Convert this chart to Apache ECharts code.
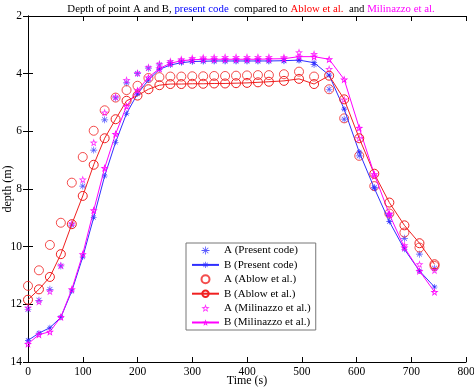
<!DOCTYPE html>
<html>
<head>
<meta charset="utf-8">
<script src="https://cdn.jsdelivr.net/npm/echarts@6/dist/echarts.min.js"></script>
<style>html,body{margin:0;padding:0;background:#fff}#c{width:474px;height:387px}</style>
</head>
<body>
<div id="c"></div>
<script>
// Time samples (s)
var times = [0,20,40,60,80,100,120,140,160,180,200,220,240,260,280,300,320,340,360,380,400,420,440,
  467.5,495,522.5,550,577.5,605,632.5,660,687.5,715,742.5];
// Depth (m)
var presentA = [12.17,11.86,11.48,10.67,9.25,7.9,6.65,5.6,4.84,4.32,3.99,3.81,3.7,3.62,3.58,3.57,3.56,3.56,3.56,3.56,3.56,3.56,3.56,
  3.55,3.53,3.68,4.54,5.58,6.85,7.95,8.92,9.71,10.26,10.75];
var presentB = [13.25,13.0,12.81,12.45,11.54,10.36,8.99,7.55,6.38,5.38,4.7,4.22,3.85,3.7,3.62,3.58,3.57,3.56,3.56,3.56,3.56,3.56,3.56,
  3.55,3.53,3.62,4.05,5.23,6.72,7.97,9.13,10.09,10.84,11.4];
var ablowA = [11.36,10.82,9.94,9.17,7.78,6.89,5.98,5.27,4.83,4.57,4.42,4.15,4.12,4.1,4.1,4.09,4.09,4.08,4.08,4.07,4.06,4.05,4.05,
  4.02,3.93,4.1,4.54,5.55,6.85,7.9,8.85,9.51,10.03,10.67];
var ablowB = [11.84,11.48,11.05,10.26,9.22,8.24,7.16,6.24,5.58,4.94,4.76,4.54,4.4,4.36,4.36,4.35,4.35,4.34,4.34,4.33,4.32,4.3,4.28,
  4.25,4.18,4.36,4.07,4.89,6.24,7.47,8.47,9.26,9.88,10.61];
var milinazzoA = [12.12,11.9,11.55,10.65,9.2,7.67,6.39,5.35,4.8,4.22,3.98,3.78,3.66,3.57,3.5,3.46,3.44,3.43,3.42,3.42,3.42,3.42,3.42,
  3.43,3.26,3.32,3.84,4.9,6.24,7.55,8.85,9.95,10.61,10.82];
var milinazzoB = [13.37,13.05,12.95,12.44,11.48,10.26,8.74,7.27,6.09,5.13,4.58,4.13,3.82,3.64,3.55,3.52,3.5,3.5,3.5,3.5,3.5,3.5,3.49,
  3.48,3.41,3.41,3.5,4.2,5.88,7.49,8.88,10.03,10.84,11.57];
var xTicks = [0,100,200,300,400,500,600,700,800];
var yTicks = [2,4,6,8,10,12,14];
var names = ['A (Present code)','B (Present code)','A (Ablow et al.)','B (Ablow et al.)','A (Milinazzo et al.)','B (Milinazzo et al.)'];

function pairs(v){ return times.map(function(t,i){ return [t, v[i]]; }); }

var FONT = '"Liberation Serif","DejaVu Serif",serif';
var BLUE = '#2f2fff', RED = '#f02020', MAG = '#ff00ff';
var ASTER = 'path://M-0.5,-5L0.5,-5L0.5,5L-0.5,5Z M-5,-0.5L5,-0.5L5,0.5L-5,0.5Z M-3.15,-3.85L3.85,3.15L3.15,3.85L-3.85,-3.15Z M-3.85,3.15L3.15,-3.85L3.85,-3.15L-3.15,3.85Z';
// hollow pentagram: outer star + reversed inner (offset) star
var STAR = 'path://M0,-5L1.18,-1.62L4.76,-1.55L1.9,0.62L2.94,4.05L0,2L-2.94,4.05L-1.9,0.62L-4.76,-1.55L-1.18,-1.62Z ' +
  'M0,-2.1L-0.5,-0.68L-2,-0.65L-0.8,0.26L-1.23,1.7L0,0.84L1.23,1.7L0.8,0.26L2,-0.65L0.5,-0.68Z';

var axisCommon = {
  axisLine:{show:true, lineStyle:{color:'#000', width:1}},
  axisTick:{show:true, inside:true, length:5, lineStyle:{color:'#000'}},
  splitLine:{show:false}
};

var chart = echarts.init(document.getElementById('c'), null, {renderer:'canvas'});
chart.setOption({
  animation:false,
  backgroundColor:'#fff',
  title:{
    text:'{k|Depth of point A and B, }{b|present code}{k|  compared to }{r|Ablow et al.}{k|  and }{m|Milinazzo et al.}',
    left:246, top:-1, textAlign:'center',
    textStyle:{
      fontFamily:FONT, fontSize:10.8, fontWeight:'normal',
      rich:{
        k:{fontFamily:FONT, fontSize:10.8, color:'#000'},
        b:{fontFamily:FONT, fontSize:10.8, color:'#0000ff'},
        r:{fontFamily:FONT, fontSize:10.8, color:'#ff0000'},
        m:{fontFamily:FONT, fontSize:10.8, color:'#ff00ff'}
      }
    }
  },
  grid:{left:28, right:8, top:16, bottom:25, containLabel:false, outerBoundsMode:'none'},
  legend:{
    orient:'vertical', left:186, top:243,
    data:names,
    backgroundColor:'#fff', borderColor:'#777', borderWidth:1,
    padding:[2,5,2,5],
    itemWidth:27, itemHeight:8, itemGap:3.4,
    textStyle:{fontFamily:FONT, fontSize:11, color:'#000'}
  },
  xAxis:[
    Object.assign({type:'value', position:'bottom', min:0, max:800, interval:100,
      name:'Time (s)', nameLocation:'middle', nameGap:13, nameMoveOverlap:false,
      nameTextStyle:{fontFamily:FONT, fontSize:12, color:'#000'},
      axisLabel:{fontFamily:FONT, fontSize:11.5, color:'#000', margin:4, customValues:xTicks}}, axisCommon),
    Object.assign({type:'value', position:'top', min:0, max:800, interval:100, axisLabel:{show:false}}, axisCommon)
  ],
  yAxis:[
    Object.assign({type:'value', position:'left', inverse:true, min:2, max:14, interval:2,
      name:'depth (m)', nameLocation:'middle', nameGap:14, nameRotate:90, nameMoveOverlap:false,
      nameTextStyle:{fontFamily:FONT, fontSize:12, color:'#000'},
      axisLabel:{fontFamily:FONT, fontSize:11.5, color:'#000', margin:6, customValues:yTicks}}, axisCommon),
    Object.assign({type:'value', position:'right', inverse:true, min:2, max:14, interval:2, axisLabel:{show:false}}, axisCommon)
  ],
  series:[
    {name:names[0], type:'scatter', data:pairs(presentA), symbol:ASTER, symbolSize:7,
      itemStyle:{color:BLUE}},
    {name:names[1], type:'line', data:pairs(presentB), symbol:ASTER, symbolSize:6, showSymbol:true,
      lineStyle:{color:BLUE, width:1}, itemStyle:{color:BLUE}},
    {name:names[2], type:'scatter', data:pairs(ablowA), symbol:'circle', symbolSize:9,
      itemStyle:{color:'rgba(0,0,0,0)', borderColor:RED, borderWidth:1}},
    {name:names[3], type:'line', data:pairs(ablowB), symbol:'circle', symbolSize:9, showSymbol:true,
      lineStyle:{color:RED, width:1}, itemStyle:{color:'rgba(0,0,0,0)', borderColor:RED, borderWidth:1}},
    {name:names[4], type:'scatter', data:pairs(milinazzoA), symbol:STAR, symbolSize:8,
      itemStyle:{color:MAG}},
    {name:names[5], type:'line', data:pairs(milinazzoB), symbol:STAR, symbolSize:8, showSymbol:true,
      lineStyle:{color:MAG, width:1}, itemStyle:{color:MAG}}
  ]
});
</script>
</body>
</html>
